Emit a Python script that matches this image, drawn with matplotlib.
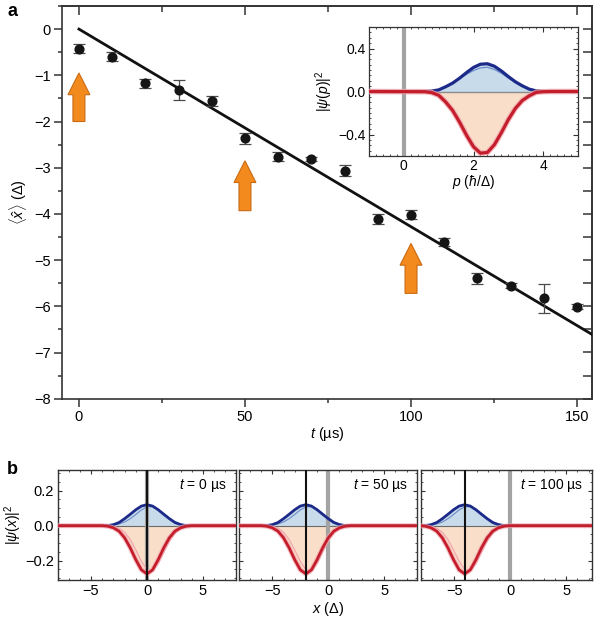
import numpy as np
import matplotlib
matplotlib.use("Agg")
import matplotlib.pyplot as plt
from matplotlib.patches import FancyArrow
from matplotlib.ticker import MultipleLocator, FixedLocator

plt.rcParams['font.family'] = ['Liberation Sans', 'DejaVu Sans']
plt.rcParams['mathtext.fontset'] = 'custom'
plt.rcParams['mathtext.rm'] = 'Liberation Sans'
plt.rcParams['mathtext.it'] = 'Liberation Sans:italic'
plt.rcParams['mathtext.bf'] = 'Liberation Sans:bold'

# ---------------- data: panel a ----------------
t_us = [0, 10, 20, 30, 40, 50, 60, 70, 80, 90, 100, 110, 120, 130, 140, 150]
x_mean = [-0.42, -0.60, -1.17, -1.32, -1.56, -2.36, -2.76, -2.81, -3.07,
          -4.11, -4.02, -4.61, -5.39, -5.55, -5.83, -6.01]
x_err = [0.10, 0.10, 0.10, 0.22, 0.11, 0.12, 0.10, 0.05, 0.12,
         0.10, 0.10, 0.08, 0.12, 0.05, 0.32, 0.05]
fit_t = [0, 155]
fit_x = [0.0, -6.63]
arrow_t = [0, 50, 100]
arrow_tip = [-0.95, -2.85, -4.64]
arrow_base = [-2.0, -3.93, -5.72]

# ---------------- data: inset (momentum distribution) ----------------
p_vals = [-1.0, 0.6, 0.8, 1.0, 1.2, 1.4, 1.6, 1.8, 2.0, 2.2, 2.4, 2.6, 2.8,
          3.0, 3.2, 3.4, 3.6, 3.8, 4.0, 4.2, 5.0]
p_blue = [0.0, 0.001, 0.004, 0.015, 0.044, 0.078, 0.124, 0.176, 0.224, 0.254,
          0.258, 0.235, 0.191, 0.139, 0.091, 0.053, 0.022, 0.006, 0.001, 0.0, 0.0]
p_blue_thin = [0.0, 0.001, 0.005, 0.018, 0.045, 0.080, 0.120, 0.160, 0.195,
               0.220, 0.225, 0.205, 0.170, 0.125, 0.082, 0.048, 0.022, 0.007,
               0.001, 0.0, 0.0]
p_red = [0.0, -0.002, -0.010, -0.035, -0.097, -0.176, -0.285, -0.407, -0.514,
         -0.574, -0.567, -0.495, -0.383, -0.261, -0.158, -0.084, -0.040,
         -0.008, -0.002, 0.0, 0.0]

# ---------------- data: panel b (position distributions) ----------------
panel_times = [0, 50, 100]
panel_centers = [0.0, -2.0, -4.05]
dx_vals = [-12.0, -4.0, -3.5, -3.0, -2.5, -2.0, -1.5, -1.0, -0.5, 0.0, 0.5,
           1.0, 1.5, 2.0, 2.5, 3.0, 3.5, 4.0, 12.0]
x_blue = [0.0, 0.0, 0.001, 0.006, 0.018, 0.040, 0.065, 0.091, 0.112, 0.120,
          0.112, 0.091, 0.065, 0.040, 0.018, 0.006, 0.001, 0.0, 0.0]
x_blue_thin = [0.0, 0.0, 0.001, 0.004, 0.010, 0.021, 0.040, 0.064, 0.090,
               0.107, 0.109, 0.095, 0.070, 0.044, 0.023, 0.010, 0.003, 0.001, 0.0]
x_red = [0.0, 0.0, -0.003, -0.012, -0.031, -0.069, -0.126, -0.194, -0.252,
         -0.275, -0.252, -0.194, -0.126, -0.069, -0.031, -0.012, -0.003, 0.0, 0.0]
x_red_thin = [0.0, 0.0, -0.001, -0.005, -0.014, -0.037, -0.078, -0.139, -0.204,
              -0.251, -0.256, -0.217, -0.152, -0.089, -0.043, -0.017, -0.005,
              -0.001, 0.0]

# ---------------- styles ----------------
C_BLUE = '#1c2a8a'
C_BLUE_THIN = '#6c8cc8'
C_RED = '#c41e2c'
C_PINK = '#f2a6ae'
C_FILL_B = '#c8dbea'
C_FILL_R = '#f9dfc9'
C_GRAY = '#a3a3a3'
C_SPINE = '#333333'
C_ORANGE = '#f38a1e'
C_ORANGE_E = '#c96a12'

W, H = 600, 619
fig = plt.figure(figsize=(6.0, 6.19), dpi=100)


def rect(l, t, r, b):
    return [l / W, 1 - b / H, (r - l) / W, (b - t) / H]


# ================= panel a =================
ax = fig.add_axes(rect(62, 6, 592, 398.7))
ax.set_xlim(-5.1, 154.5)
ax.set_ylim(-8, 0.5)
ax.plot(fit_t, fit_x, color='#111111', lw=2.0, zorder=3)
ax.errorbar(t_us, x_mean, yerr=x_err, fmt='o', color='#151515', ms=6.3,
            ecolor='#4a4a4a', elinewidth=0.9, capsize=4.5, capthick=0.9, zorder=4)
for tx, tip, base in zip(arrow_t, arrow_tip, arrow_base):
    ar = FancyArrow(tx, base, 0, tip - base, width=3.6, head_width=6.6,
                    head_length=0.47, length_includes_head=True,
                    facecolor=C_ORANGE, edgecolor=C_ORANGE_E, lw=0.8, zorder=5)
    ax.add_patch(ar)

for s in ax.spines.values():
    s.set_color(C_SPINE)
    s.set_linewidth(1.2)
ax.xaxis.set_major_locator(FixedLocator([0, 50, 100, 150]))
ax.xaxis.set_minor_locator(FixedLocator([25, 75, 125]))
ax.yaxis.set_major_locator(MultipleLocator(1))
ax.yaxis.set_minor_locator(MultipleLocator(0.5))
ax.tick_params(axis='both', which='major', direction='out', length=5.5,
               width=1.1, color=C_SPINE, labelsize=10.5, pad=2.5)
ax.tick_params(axis='both', which='minor', direction='out', length=2.8,
               width=1.1, color=C_SPINE)
ax.set_yticklabels([f'{int(v)}'.replace('-', '\u2212') for v in ax.get_yticks()])
ax.set_xlabel(r'$t$ (µs)', fontsize=10.5, labelpad=1)
ax.set_ylabel(r'$\langle\hat{x}\rangle$ $(\mathit{\Delta})$', fontsize=10.5, labelpad=4)

top = ax.secondary_xaxis('top')
top.xaxis.set_major_locator(FixedLocator([0, 50, 100, 150]))
top.xaxis.set_minor_locator(FixedLocator([25, 75, 125]))
top.tick_params(which='major', direction='in', length=6.5, width=1.1, color=C_SPINE,
                labeltop=False)
top.tick_params(which='minor', direction='in', length=4, width=1.1, color=C_SPINE)
top.spines['top'].set_color(C_SPINE)
top.spines['top'].set_linewidth(1.2)
right = ax.secondary_yaxis('right')
right.yaxis.set_major_locator(MultipleLocator(0.5))
right.tick_params(which='major', direction='in', length=6.5, width=1.1, color=C_SPINE,
                  labelright=False)
right.spines['right'].set_color(C_SPINE)
right.spines['right'].set_linewidth(1.2)

fig.text(7 / W, 1 - 12 / H, 'a', fontsize=13, fontweight='bold', va='center', ha='left')

# ================= inset =================
ai = fig.add_axes(rect(369, 27, 578, 156))
ai.set_xlim(-1, 5)
ai.set_ylim(-0.6, 0.6)
ai.fill_between(p_vals, 0, p_blue, color=C_FILL_B, lw=0, zorder=1)
ai.fill_between(p_vals, 0, p_red, color=C_FILL_R, lw=0, zorder=1)
ai.axhline(0, color='#8a8a8a', lw=1.0, zorder=2)
ai.axvline(0, color=C_GRAY, lw=3, zorder=2)
ai.plot(p_vals, p_blue_thin, color=C_BLUE_THIN, lw=0.9, zorder=3)
ai.plot(p_vals, p_blue, color=C_BLUE, lw=2.3, zorder=4)
ai.plot(p_vals, p_red, color=C_PINK, lw=4.0, zorder=4, alpha=0.8)
ai.plot(p_vals, p_red, color=C_RED, lw=2.3, zorder=5)
for s in ai.spines.values():
    s.set_color(C_SPINE)
    s.set_linewidth(0.9)
ai.xaxis.set_major_locator(FixedLocator([0, 2, 4]))
ai.xaxis.set_minor_locator(MultipleLocator(0.2))
ai.yaxis.set_major_locator(FixedLocator([-0.4, 0.0, 0.4]))
ai.yaxis.set_minor_locator(MultipleLocator(0.05))
ai.tick_params(axis='both', which='major', direction='in', length=3.5, width=0.8,
               top=True, right=True, labelsize=10, pad=2.5, color=C_SPINE)
ai.tick_params(axis='both', which='minor', direction='in', length=1.6, width=0.6,
               top=True, right=True, color=C_SPINE)
ai.set_yticklabels(['\u22120.4', '0.0', '0.4'])
ai.set_xlabel(r'$p$ $(\hbar/\mathit{\Delta})$', fontsize=10, labelpad=0)
ai.set_ylabel(r'$|\psi(p)|^2$', fontsize=10, labelpad=2)

# ================= panel b =================
b_rects = [(58, 236, (-7.95, 7.95)), (239.3, 417.3, (-7.95, 7.95)),
           (421, 592, (-7.95, 7.3))]
axes_b = []
for i, (l, r, xl) in enumerate(b_rects):
    ab = fig.add_axes(rect(l, 470, r, 580))
    axes_b.append(ab)
    c = panel_centers[i]
    xs = [c + d for d in dx_vals]
    ab.set_xlim(*xl)
    ab.set_ylim(-0.31, 0.318)
    ab.fill_between(xs, 0, x_blue, color=C_FILL_B, lw=0, zorder=1)
    ab.fill_between(xs, 0, x_red, color=C_FILL_R, lw=0, zorder=1)
    ab.axhline(0, color='#6a6a6a', lw=0.8, zorder=2)
    ab.axvline(0, color=C_GRAY, lw=3, zorder=2)
    ab.plot(xs, x_blue_thin, color=C_BLUE_THIN, lw=0.8, zorder=3)
    ab.plot(xs, x_red_thin, color=C_PINK, lw=0.9, zorder=3)
    ab.plot(xs, x_blue, color=C_BLUE, lw=2.0, zorder=4)
    ab.plot(xs, x_red, color=C_PINK, lw=3.6, alpha=0.7, zorder=4)
    ab.plot(xs, x_red, color=C_RED, lw=2.0, zorder=5)
    ab.axvline(c, color='#111111', lw=1.5, zorder=6)
    for s in ab.spines.values():
        s.set_color(C_SPINE)
        s.set_linewidth(1.0)
    ab.xaxis.set_major_locator(FixedLocator([-5, 0, 5]))
    ab.xaxis.set_minor_locator(MultipleLocator(1))
    ab.yaxis.set_major_locator(FixedLocator([-0.2, 0.0, 0.2]))
    ab.yaxis.set_minor_locator(MultipleLocator(0.05))
    ab.tick_params(axis='both', which='major', direction='in', length=3, width=0.8,
                   top=True, right=True, labelsize=10.5, pad=3, color=C_SPINE)
    ab.tick_params(axis='both', which='minor', direction='in', length=1.5, width=0.6,
                   top=True, right=True, color=C_SPINE)
    ab.set_xticklabels(['\u22125', '0', '5'])
    if i == 0:
        ab.set_yticklabels(['\u22120.2', '0.0', '0.2'])
        ab.set_ylabel(r'$|\psi(x)|^2$', fontsize=10, labelpad=1)
    else:
        ab.set_yticklabels([])
    if i == 1:
        ab.set_xlabel(r'$x$ $(\mathit{\Delta})$', fontsize=10.5, labelpad=1)
    ab.text(0.95, 0.86, r'$t$ = %d µs' % panel_times[i], transform=ab.transAxes,
            ha='right', va='center', fontsize=10)

fig.text(7 / W, 1 - 469 / H, 'b', fontsize=13, fontweight='bold', va='center', ha='left')

fig.savefig('out.png', dpi=100)
